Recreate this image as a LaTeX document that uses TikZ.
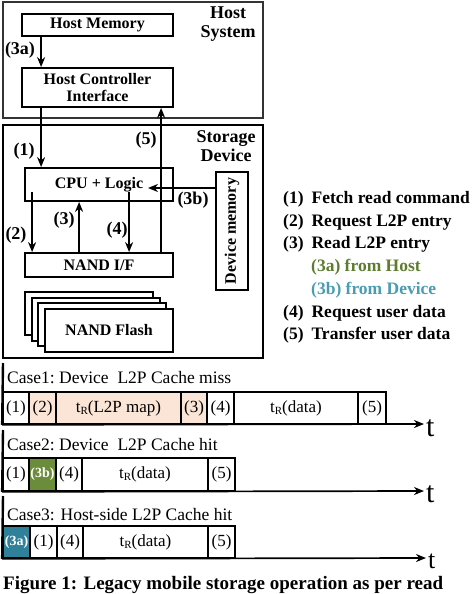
\documentclass[tikz,border=0pt]{standalone}
\usepackage{fontspec}
\setmainfont{Liberation Serif}
\usetikzlibrary{arrows.meta,calc}
\definecolor{peach}{HTML}{FBE5D6}
\definecolor{gfill}{HTML}{6B8C3B}
\definecolor{tfill}{HTML}{2F8099}
\definecolor{gtext}{HTML}{5E7C2E}
\definecolor{ttext}{HTML}{4A9CB3}
\definecolor{frame}{HTML}{333333}
\newcommand\tsub{t\raisebox{-0.25ex}{\fontsize{11}{11}\selectfont R}}
\tikzset{
  blk/.style={draw, line width=1.8pt, fill=white, inner sep=0pt, align=center,
    font=\fontsize{16}{16.5}\selectfont\bfseries},
  outer/.style={draw=frame, line width=2pt, inner sep=0pt},
  lbl/.style={inner sep=0pt, font=\fontsize{18}{18}\selectfont\bfseries},
  big/.style={inner sep=0pt, align=center, font=\fontsize{18}{19}\selectfont\bfseries},
  arr/.style={line width=1.7pt, -{Stealth[length=10pt,width=8pt]}},
  leg/.style={inner sep=0pt, anchor=base west, font=\fontsize{17.5}{18}\selectfont\bfseries},
  tb/.style={draw, line width=1.7pt, inner sep=0pt, font=\fontsize{17}{17}\selectfont},
  case/.style={inner sep=0pt, anchor=base west, font=\fontsize{17.5}{17.5}\selectfont},
  ax/.style={line width=1.7pt, -{Stealth[length=10pt,width=8pt]}},
  tl/.style={inner sep=0pt, anchor=base west, font=\fontsize{30}{30}\selectfont},
  vl/.style={line width=2.4pt},
}
\begin{document}
\begin{tikzpicture}[x=1pt,y=-1pt]
\useasboundingbox (0,0) rectangle (474,594);
% ---- Host system ----
\node[outer, minimum width=260pt, minimum height=116pt] (hs) at (133,60) {};
\node[big] (hslbl) at (228,24) {Host\\System};
\node[blk, minimum width=151pt, minimum height=22pt] (hm) at (97.5,25) {Host Memory};
\node[blk, minimum width=151pt, minimum height=39pt] (hci) at (97.5,87.5) {Host Controller\\Interface};
% ---- Storage device ----
\node[outer, draw=black, minimum width=260pt, minimum height=233pt] (sd) at (133,241.5) {};
\node[big] (sdlbl) at (226,146) {Storage\\Device};
\node[blk, font=\fontsize{16}{16}\selectfont\bfseries, minimum width=148pt, minimum height=33pt] (cpu) at (99,184.5) {CPU + Logic};
\node[blk, minimum width=148pt, minimum height=24pt] (nif) at (99,265) {NAND I/F};
\node[blk, rotate=90, minimum width=118pt, minimum height=32pt] (dm) at (232,231) {Device memory};
\node[blk, minimum width=128pt, minimum height=43pt] (f0) at (89,313.5) {};
\node[blk, minimum width=128pt, minimum height=43pt] (f1) at (95.7,319.2) {};
\node[blk, minimum width=128pt, minimum height=43pt] (f2) at (102.3,324.8) {};
\node[blk, minimum width=128pt, minimum height=43pt] (f3) at (109,330.5) {NAND Flash};
% ---- arrows ----
\draw[arr] ($(hm.south west)+(20,0)$) -- ($(hci.north west)+(20,0)$);
\node[lbl] (l3a) at (20,50) {(3a)};
\draw[arr] ($(hci.south west)+(20,0)$) -- ($(cpu.north west)+(17,0)$);
\node[lbl] (l1) at (24,151) {(1)};
\draw[arr] ($(nif.north west)+(137,0)$) -- ($(hci.south west)+(140,0)$);
\node[lbl] (l5) at (146,140) {(5)};
\draw[arr] ($(cpu.north west)+(8,25)$) -- ($(nif.north west)+(8,0)$);
\node[lbl] (l2) at (16,235) {(2)};
\draw[arr] ($(nif.north west)+(55,0)$) -- ($(cpu.south west)+(55,0)$);
\node[lbl] (l3) at (64,220) {(3)};
\draw[arr] ($(cpu.north west)+(105,25)$) -- ($(nif.north west)+(105,0)$);
\node[lbl] (l4) at (117,230) {(4)};
\draw[arr] (dm.north |- 0,188) -- (148,188) coordinate (tip3b);
\node[lbl] (l3b) at (193,200) {(3b)};
% ---- legend ----
\node[leg] (g1) at (283,203) {(1)\hspace{8pt}Fetch read command};
\node[leg] (g2) at (283,226) {(2)\hspace{8pt}Request L2P entry};
\node[leg] (g3) at (283,248.5) {(3)\hspace{8pt}Read L2P entry};
\node[leg, text=gtext] (g3a) at (311,271) {(3a) from Host};
\node[leg, text=ttext] (g3b) at (311,294) {(3b) from Device};
\node[leg] (g4) at (283,317) {(4)\hspace{8pt}Request user data};
\node[leg] (g5) at (283,339.5) {(5)\hspace{8pt}Transfer user data};
% ---- Case 1 ----
\node[case] (cl1) at (7,383) {Case1:\ Device\ \ L2P Cache miss};
\node[tb, minimum width=26pt, minimum height=32pt] (a1) at (16,408) {(1)};
\node[tb, fill=peach, minimum width=27pt, minimum height=32pt] (a2) at (42.5,408) {(2)};
\node[tb, fill=peach, minimum width=125pt, minimum height=32pt] (a3) at (118.5,408) {\tsub(L2P map)};
\node[tb, fill=peach, minimum width=26pt, minimum height=32pt] (a4) at (194,408) {(3)};
\node[tb, minimum width=27pt, minimum height=32pt] (a5) at (220.5,408) {(4)};
\node[tb, minimum width=124pt, minimum height=32pt] (a6) at (296,408) {\tsub(data)};
\node[tb, minimum width=28pt, minimum height=32pt] (a7) at (372,408) {(5)};
\coordinate (e1) at (424,424);
\coordinate (s1) at (3,363);
\draw[vl] (s1) -- (a1.south west);
\draw[ax] (a1.south west) -- (e1);
\node[tl] (t1) at (426,436) {t};
% ---- Case 2 ----
\node[case] (cl2) at (7,450) {Case2:\ Device\ \ L2P Cache hit};
\node[tb, minimum width=26pt, minimum height=33pt] (b1) at (16,474.5) {(1)};
\node[tb, fill=gfill, text=white, font=\fontsize{14}{14}\selectfont\bfseries, minimum width=27pt, minimum height=33pt] (b2) at (42.5,474.5) {(3b)};
\node[tb, minimum width=26pt, minimum height=33pt] (b3) at (69,474.5) {(4)};
\node[tb, minimum width=126pt, minimum height=33pt] (b4) at (145,474.5) {\tsub(data)};
\node[tb, minimum width=27pt, minimum height=33pt] (b5) at (221.5,474.5) {(5)};
\coordinate (e2) at (424,491);
\coordinate (s2) at (3,430);
\draw[vl] (s2) -- (b1.south west);
\draw[ax] (b1.south west) -- (e2);
\node[tl] (t2) at (426,502) {t};
% ---- Case 3 ----
\node[case] (cl3) at (7,520) {Case3: Host-side L2P Cache hit};
\node[tb, fill=tfill, text=white, font=\fontsize{14}{14}\selectfont\bfseries, minimum width=27pt, minimum height=32pt] (c1) at (16.5,542) {(3a)};
\node[tb, minimum width=27pt, minimum height=32pt] (c2) at (43.5,542) {(1)};
\node[tb, minimum width=26pt, minimum height=32pt] (c3) at (70,542) {(4)};
\node[tb, minimum width=125pt, minimum height=32pt] (c4) at (145.5,542) {\tsub(data)};
\node[tb, minimum width=27pt, minimum height=32pt] (c5) at (221.5,542) {(5)};
\coordinate (e3) at (426,558);
\coordinate (s3) at (3,496);
\draw[vl] (s3) -- (c1.south west);
\draw[ax] (c1.south west) -- (e3);
\node[tl, font=\fontsize{26}{26}\selectfont] (t3) at (428,568) {t};
% ---- caption ----
\node[inner sep=0pt, anchor=base west, font=\fontsize{19}{19}\selectfont\bfseries] (cap) at (3,589) {Figure 1: Legacy mobile storage operation as per read};
\end{tikzpicture}
\end{document}
